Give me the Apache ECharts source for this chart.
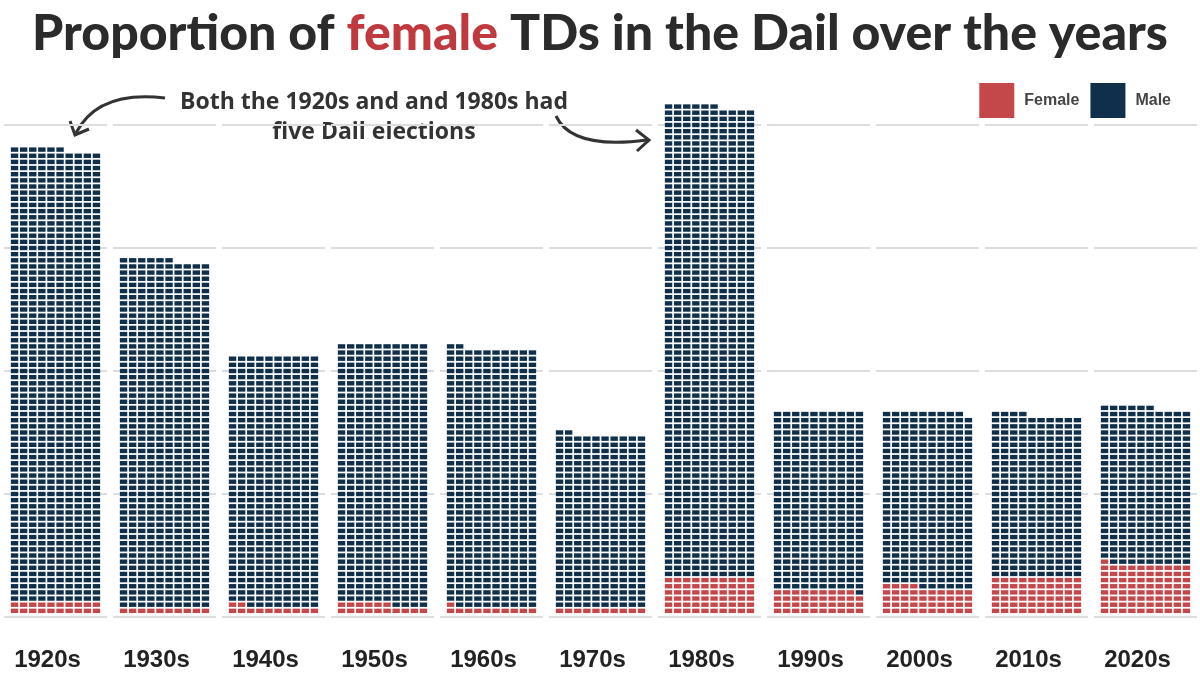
<!DOCTYPE html>
<html>
<head>
<meta charset="utf-8">
<script src="https://cdn.jsdelivr.net/npm/echarts@6/dist/echarts.min.js"></script>
<style>
  html, body { margin: 0; padding: 0; background: #fff; }
  #chart { width: 1200px; height: 675px; }
</style>
</head>
<body>
<div id="chart"></div>
<script>
// seats won per decade (summed over every election in the decade)
const decades = ['1920s', '1930s', '1940s', '1950s', '1960s', '1970s', '1980s', '1990s', '2000s', '2010s', '2020s']
const femaleSeats = [20, 10, 12, 16, 11, 10, 60, 39, 44, 60, 81]
const maleSeats = [736, 566, 408, 424, 421, 282, 766, 291, 285, 264, 255]
const gridTicks = [0, 200, 400, 600, 800]
const perRow = 10

const grids = []
const xAxes = []
const yAxes = []
const series = []

decades.forEach((d, i) => {
  grids.push({ left: 4 + 109 * i, width: 103, top: 125, height: 492, outerBoundsMode: 'none' })
  xAxes.push({
    gridIndex: i,
    type: 'value',
    min: -0.66,
    max: 10.66,
    axisLine: { show: false },
    axisTick: { show: false },
    axisLabel: { show: false },
    splitLine: { show: false },
    name: d,
    nameLocation: 'middle',
    nameGap: 31,
    nameTextStyle: {
      fontFamily: 'Liberation Sans',
      fontWeight: 'bold',
      fontSize: 24,
      color: '#222',
      padding: [0, 16, 0, 0]
    }
  })
  yAxes.push({
    gridIndex: i,
    type: 'value',
    min: gridTicks[0],
    max: gridTicks[gridTicks.length - 1],
    interval: gridTicks[1] - gridTicks[0],
    axisLine: { show: false },
    axisTick: { show: false },
    axisLabel: { show: false },
    splitLine: { lineStyle: { color: '#dddddd', width: 2 } }
  })
  // waffle: one cell per seat, filled from bottom-left, women first
  const fem = []
  const male = []
  const total = femaleSeats[i] + maleSeats[i]
  for (let k = 0; k < total; k++) {
    const cell = [k % perRow + 0.5, Math.floor(k / perRow) * 10 + 10]
    if (k < femaleSeats[i]) fem.push(cell)
    else male.push(cell)
  }
  series.push({
    type: 'scatter',
    name: 'Female',
    xAxisIndex: i,
    yAxisIndex: i,
    data: fem,
    symbol: 'rect',
    symbolSize: [7.4, 4.4],
    clip: false,
    silent: true,
    itemStyle: { color: '#c4474a', opacity: 1 }
  })
  series.push({
    type: 'scatter',
    name: 'Male',
    xAxisIndex: i,
    yAxisIndex: i,
    data: male,
    symbol: 'rect',
    symbolSize: [7.4, 4.4],
    clip: false,
    silent: true,
    itemStyle: { color: '#0f2f4b', opacity: 1 }
  })
})

const option = {
  animation: false,
  backgroundColor: '#fff',
  title: {
    left: 'center',
    top: 4,
    text: '{a|Proportion of }{b|female}{a| TDs in the Dail over the years}',
    textStyle: {
      rich: {
        a: { fontFamily: 'Lato', fontWeight: 900, fontSize: 50, color: '#2b2b2b' },
        b: { fontFamily: 'Lato', fontWeight: 900, fontSize: 50, color: '#c0393e' }
      }
    }
  },
  legend: {
    data: ['Female', 'Male'],
    right: 24,
    top: 78,
    icon: 'rect',
    itemWidth: 35,
    itemHeight: 35,
    itemGap: 11,
    selectedMode: false,
    textStyle: {
      fontFamily: 'Liberation Sans',
      fontWeight: 'bold',
      fontSize: 16,
      color: '#444',
      padding: [0, 0, 0, 5]
    }
  },
  grid: grids,
  xAxis: xAxes,
  yAxis: yAxes,
  series: series,
  graphic: [
    {
      type: 'text',
      x: 374,
      y: 87,
      style: {
        text: 'Both the 1920s and and 1980s had\nfive Dail elections',
        fontFamily: 'Open Sans',
        fontWeight: 'bold',
        fontSize: 23,
        lineHeight: 30,
        fill: '#333',
        align: 'center'
      }
    },
    {
      type: 'bezierCurve',
      shape: { x1: 165, y1: 98, cpx1: 98, cpy1: 90, x2: 76, y2: 133 },
      style: { stroke: '#333', lineWidth: 3, fill: null }
    },
    {
      type: 'polyline',
      shape: { points: [[70, 121], [75, 135], [89, 129]] },
      style: { stroke: '#333', lineWidth: 3, fill: null }
    },
    {
      type: 'bezierCurve',
      shape: { x1: 556, y1: 116, cpx1: 572, cpy1: 150, x2: 647, y2: 140 },
      style: { stroke: '#333', lineWidth: 3, fill: null }
    },
    {
      type: 'polyline',
      shape: { points: [[636, 130], [649, 140], [637, 151]] },
      style: { stroke: '#333', lineWidth: 3, fill: null }
    }
  ]
}

const myChart = echarts.init(document.getElementById('chart'))
myChart.setOption(option)
window.addEventListener('resize', function () {
  myChart.resize()
})
</script>
</body>
</html>
